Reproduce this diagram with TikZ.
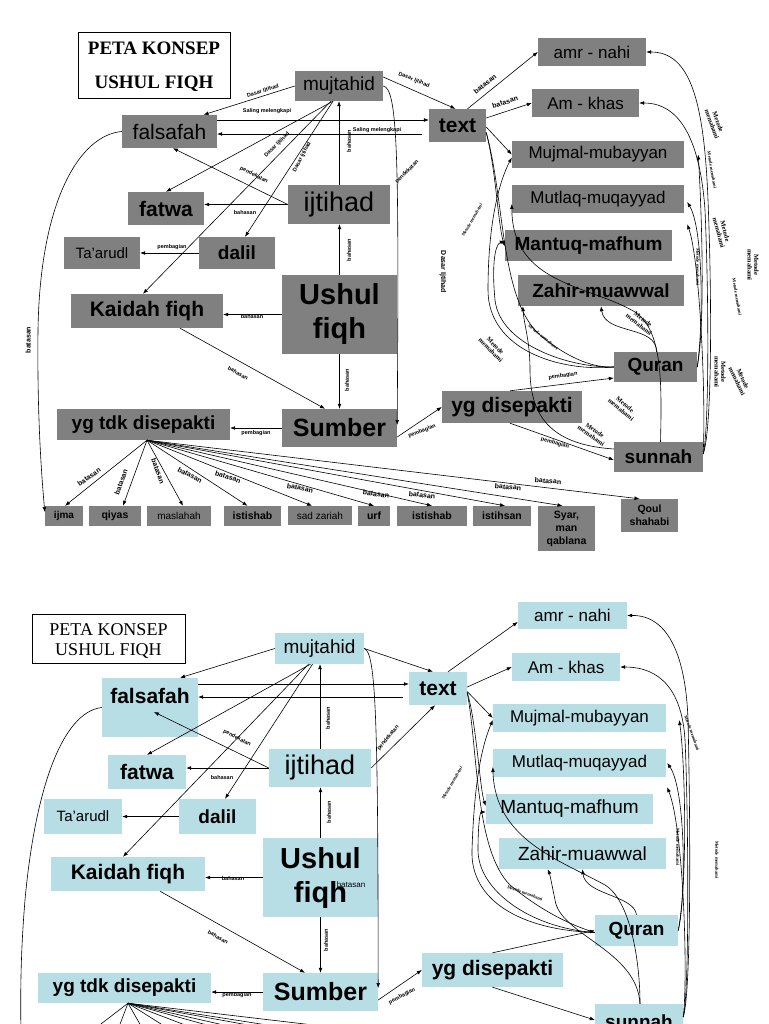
\documentclass[tikz,border=0pt]{standalone}
\usepackage{fontspec}
\setmainfont{Liberation Sans}
\newfontfamily\serifTT{Liberation Serif}
\usetikzlibrary{arrows.meta,calc}
\definecolor{gfill}{RGB}{128,128,128}
\definecolor{bfill}{RGB}{183,221,229}
\newcommand\fR[2]{\fontsize{#1}{#2}\selectfont}
\newcommand\fB[2]{\bfseries\fontsize{#1}{#2}\selectfont}
\newcommand\bx[8]{\node[#2, minimum width={#5-#3}, minimum height={#6-#4}, font=#7] (#1) at ({(#3+#5)/2},{(#4+#6)/2}) {#8};}
\newcommand\lb[5]{\node[#1,rotate=#4] (#2) at (#3) {#5};}
\tikzset{
 nb/.style={inner sep=0pt, align=center, text=black},
 ga/.style={nb, fill=gfill},
 bb/.style={nb, fill=bfill},
 arr/.style={line width=0.6pt, -{Latex[length=5pt,width=3.8pt]}},
 ln/.style={line width=0.6pt},
 lab/.style={font=\bfseries\fontsize{5.5}{6}\selectfont, inner sep=0pt},
 blab/.style={font=\bfseries\fontsize{7}{8}\selectfont, inner sep=0pt},
 llab/.style={font=\fontsize{8}{9}\selectfont, inner sep=0pt},
 mlab/.style={font=\serifTT\bfseries\fontsize{6.5}{6.5}\selectfont, align=center, inner sep=0pt},
 slab/.style={font=\serifTT\bfseries\fontsize{4.5}{5}\selectfont, inner sep=0pt},
 ttl/.style={draw, line width=0.8pt, inner sep=0pt},
}
\begin{document}
\begin{tikzpicture}[x=1pt,y=-1pt]
\useasboundingbox (0,0) rectangle (768,1024);
\fill[white] (0,0) rectangle (768,1024);
\clip (0,0) rectangle (768,1024);

%================ TOP (gray) ================
\node[ttl, minimum width=152, minimum height=66] (titA) at (154,65) {};
\node[anchor=base, inner sep=0pt, font=\serifTT\bfseries\fontsize{19}{23}\selectfont] (titA1) at (154,55) {PETA KONSEP};
\node[anchor=base, inner sep=0pt, font=\serifTT\bfseries\fontsize{19}{23}\selectfont] (titA2) at (154,89) {USHUL FIQH};

\bx{mujA}{ga}{295}{71}{383}{101}{\fR{19}{23}}{mujtahid}
\bx{falA}{ga}{122}{115}{217}{148}{\fR{21}{25}}{falsafah}
\bx{fatA}{ga}{128}{192}{204}{225}{\fB{21}{25}}{fatwa}
\bx{ijtA}{ga}{288}{185}{390}{224}{\fR{27}{32}}{ijtihad}
\bx{taA}{ga}{64}{237}{140}{269}{\fR{15}{18}}{Ta'arudl}
\bx{dalA}{ga}{199}{237}{275}{269}{\fB{19}{23}}{dalil}
\bx{ushA}{ga}{282}{275}{397}{354}{\fB{29}{34}}{Ushul\\fiqh}
\bx{kaiA}{ga}{71}{294}{223}{328}{\fB{21}{25}}{Kaidah fiqh}
\bx{sumA}{ga}{282}{409}{397}{447}{\fB{25}{30}}{Sumber}
\bx{ytdA}{ga}{57}{409}{230}{440}{\fB{19}{23}}{yg tdk disepakti}
\bx{ijmaA}{ga}{45}{506}{83}{526}{\fB{10}{12}}{ijma}
\bx{qiyA}{ga}{89}{506}{141}{526}{\fB{10.5}{12}}{qiyas}
\bx{masA}{ga}{147}{506}{211}{526}{\fR{10}{12}}{maslahah}
\bx{istA}{ga}{224}{506}{281}{526}{\fB{10.5}{12}}{istishab}
\bx{sadA}{ga}{288}{506}{352}{525}{\fR{10}{12}}{sad zariah}
\bx{urfA}{ga}{358}{506}{390}{526}{\fB{10.5}{12}}{urf}
\bx{istbA}{ga}{397}{506}{467}{526}{\fB{10.5}{12}}{istishab}
\bx{ihsA}{ga}{473}{506}{531}{526}{\fB{10.5}{12}}{istihsan}
\bx{syaA}{ga}{538}{506}{595}{551}{\fB{10.5}{13}}{Syar,\\man\\qablana}
\bx{qouA}{ga}{621}{499}{678}{532}{\fB{10.5}{13}}{Qoul\\shahabi}
\bx{ydsA}{ga}{442}{391}{582}{423}{\fB{21}{25}}{yg disepakti}
\bx{qurA}{ga}{614}{352}{697}{382}{\fB{19}{23}}{Quran}
\bx{sunA}{ga}{614}{442}{703}{472}{\fB{19}{23}}{sunnah}
\bx{amrA}{ga}{538}{38}{646}{66}{\fR{17}{20}}{amr - nahi}
\bx{amkA}{ga}{532}{89}{639}{117}{\fR{17}{20}}{Am - khas}
\bx{texA}{ga}{429}{109}{486}{142}{\fB{21}{25}}{text}
\bx{mujmA}{ga}{512}{141}{684}{168}{\fR{17}{20}}{Mujmal-mubayyan}
\bx{mutA}{ga}{512}{185}{684}{213}{\fR{17}{20}}{Mutlaq-muqayyad}
\bx{manA}{ga}{505}{230}{672}{261}{\fB{19}{23}}{Mantuq-mafhum}
\bx{zahA}{ga}{518}{275}{684}{306}{\fB{19}{23}}{Zahir-muawwal}

% connectors (top)
\draw[arr] (mujA.west) -- ([xshift=34pt]falA.north);
\draw[arr] ([yshift=11.5pt]falA.east) -- ([yshift=11.5pt]falA.east -| texA.west);
\draw[arr] ([xshift=-7pt,yshift=-8.5pt]texA.west) -- ([yshift=-8.5pt]texA.west -| falA.east);
\draw[arr] ([yshift=9pt]mujA.east) -- ([xshift=-2pt]texA.north);
\draw[arr] ([xshift=-6pt]mujA.south) -- (fatA.north);
\draw[arr] ([xshift=-6pt]mujA.south) -- ([xshift=8pt]dalA.north);
\draw[arr] ([xshift=-8pt]mujA.south) -- ([xshift=-4pt]kaiA.north);
\draw[arr] (ijtA.west) -- ([xshift=3.5pt]falA.south);
\draw[arr] (ijtA.west) -- (ijtA.west -| fatA.east);
\draw[arr] (dalA.west) -- (taA.east);
\draw[arr] (ijtA.north) -- (ijtA.north |- mujA.south);
\draw[arr] (ushA.north) -- (ushA.north |- ijtA.south);
\draw[arr] (ushA.west) -- (ushA.west -| kaiA.east);
\draw[arr] (ushA.south) -- (ushA.south |- sumA.north);
\draw[arr] ([xshift=33pt]kaiA.south) -- ([xshift=-14.5pt]sumA.north);
\draw[arr] (sumA.west) -- (sumA.west -| ytdA.east);
\draw[arr] (mujA.east) .. controls (398,88) and (399,160) .. ([yshift=3pt]sumA.east);
\draw[arr] (falA.west) .. controls (80,135) and (40,200) .. (38,330) .. controls (37,420) and (42,480) .. ([yshift=4pt]ijmaA.west);
\draw[arr] ([yshift=-9pt]sumA.east) -- (ydsA.west);
\draw[arr] ([xshift=-2pt]ydsA.north) -- ([yshift=-11pt]qurA.west);
\draw[arr] ([xshift=-2pt]ydsA.south) -- ([yshift=-3pt]sunA.west);
\coordinate (fanA) at ([xshift=3.5pt]ytdA.south);
\foreach \n/\s in {ijmaA/1,qiyA/8,masA/4,istA/-5,sadA/-8,urfA/0,istbA/0,ihsA/3,syaA/-4,qouA/-10}
  {\draw[arr] (fanA) -- ([xshift=\s pt]\n.north);}
\draw[arr] ([xshift=10pt]texA.north) -- (amrA.west);
\draw[arr] ([yshift=7.5pt]texA.east) -- (amkA.west);
\draw[arr] ([yshift=-1.5pt]texA.east) -- (mujmA.west);
\draw[arr] ([yshift=-7pt]texA.east) .. controls (496,170) and (498,225) .. ([yshift=-1pt]manA.west);
\draw[ln] ([yshift=-7pt]texA.east) .. controls (505,200) and (500,300) .. (540,335) .. controls (570,360) and (595,368) .. (qurA.west);
\draw[arr] (qurA.west) .. controls (560,372) and (488,350) .. (488,290) .. controls (488,220) and (500,180) .. ([yshift=-3pt]mujmA.west);
\draw[arr] (qurA.west) .. controls (570,368) and (500,345) .. (495,300) .. controls (492,270) and (494,245) .. ([yshift=5pt]manA.west);
\draw[arr] ([xshift=2pt]sunA.north) .. controls (662,380) and (662,330) .. (635,312) .. controls (590,285) and (512,285) .. ([yshift=-5pt]mutA.west);
\draw[arr] ([xshift=1pt]qurA.north) .. controls (657,325) and (605,335) .. (zahA.south);
\draw[arr] ([yshift=8pt]sunA.west) .. controls (555,445) and (530,420) .. (530,370) .. controls (530,340) and (524,325) .. ([xshift=5pt]zahA.south west);
\draw[arr] ([yshift=3pt]sunA.east) .. controls (712,430) and (712,300) .. (708,200) .. controls (704,100) and (690,52) .. (amrA.east);
\draw[arr] ([yshift=3pt]sunA.east) .. controls (709,430) and (709,300) .. (705,210) .. controls (700,140) and (680,103) .. (amkA.east);
\draw[arr] (qurA.east) .. controls (703,330) and (704,230) .. ([xshift=3pt,yshift=-3pt]mutA.east);
\draw[arr] ([yshift=5pt]sunA.east) .. controls (706,400) and (700,260) .. ([xshift=3pt,yshift=-11pt]mutA.south east);
\draw[arr] (qurA.east) .. controls (706,320) and (701,200) .. ([xshift=14pt]mujmA.east);

% labels (top)
\lb{lab}{lA1}{263,91}{17}{Dasar Ijtihad}
\lb{lab}{lA2}{267,111}{0}{Saling melengkapi}
\lb{lab}{lA3}{377,130}{0}{Saling melengkapi}
\lb{lab}{lA4}{414,80}{-22}{Dasar Ijtihad}
\lb{lab}{lA5}{277,145}{45}{Dasar Ijtihad}
\lb{lab}{lA6}{302,157}{62}{Dasar Ijtihad}
\lb{lab}{lA7}{254,175}{-27}{pendekatan}
\lb{lab}{lA8}{245,213}{0}{bahasan}
\lb{lab}{lA9}{172,247}{0}{pembagian}
\lb{lab}{lA10}{349,141}{90}{bahasan}
\lb{lab}{lA11}{349,250}{90}{bahasan}
\lb{lab}{lA12}{252,317}{0}{bahasan}
\lb{lab}{lA13}{347,380}{90}{bahasan}
\lb{lab}{lA14}{238,373}{-30}{bahasan}
\lb{lab}{lA15}{256,433}{0}{pembagian}
\lb{lab}{lA16}{407,172}{45}{pendekatan}
\lb{blab}{lA17}{28,340}{90}{batasan}
\lb{lab}{lA18}{422,431}{22}{pembagian}
\lb{lab}{lA19}{563,376}{8}{pembagian}
\lb{lab}{lA20}{555,443}{-15}{pembagian}
\lb{blab}{lA21}{89,477}{35}{batasan}
\lb{blab}{lA22}{121,482}{70}{batasan}
\lb{blab}{lA23}{158,471}{-70}{batasan}
\lb{blab}{lA24}{190,475}{-28}{batasan}
\lb{blab}{lA25}{228,477}{-18}{batasan}
\lb{blab}{lA26}{300,488}{-10}{batasan}
\lb{blab}{lA27}{376,494}{-7}{batasan}
\lb{blab}{lA28}{422,495}{-6}{batasan}
\lb{blab}{lA29}{508,487}{-5}{batasan}
\lb{blab}{lA30}{548,481}{-4}{batasan}
\lb{blab}{lA31}{485,84}{38}{batasan}
\lb{blab}{lA32}{505,102}{17}{batasan}
\lb{blab}{lA33}{443,272}{-90}{Dasar Ijtihad}
\lb{mlab}{mA1}{715,123}{-70}{Metode\\memahami}
\lb{mlab}{mA2}{722,232}{-75}{Metode\\memahami}
\lb{mlab}{mA3}{753,265}{-90}{Metode\\memahami}
\lb{mlab}{mA4}{493,348}{-45}{Metode\\memahami}
\lb{mlab}{mA5}{641,322}{-38}{Metode\\memahami}
\lb{mlab}{mA6}{623,407}{-40}{Metode\\memahami}
\lb{mlab}{mA7}{593,433}{-35}{Metode\\memahami}
\lb{mlab}{mA8}{720,372}{-90}{Metode\\memahami}
\lb{mlab}{mA9}{740,380}{-65}{Metode\\memahami}
\lb{slab}{sA1}{712,170}{-80}{Metode memahami}
\lb{slab}{sA2}{698,267}{-90}{Metode memahami}
\lb{slab}{sA3}{737,297}{-80}{Metode memahami}
\lb{slab}{sA4}{472,220}{60}{Metode memahami}
\lb{slab}{sA5}{543,337}{-40}{Metode memahami}

%================ BOTTOM (blue) ================
\node[ttl, minimum width=153, minimum height=49] (titB) at (108.5,638.5) {};
\node[anchor=base, inner sep=0pt, font=\serifTT\fontsize{18}{21}\selectfont] (titB1) at (108.5,635) {PETA KONSEP};
\node[anchor=base, inner sep=0pt, font=\serifTT\fontsize{18}{21}\selectfont] (titB2) at (108.5,655) {USHUL FIQH};

\bx{mujB}{bb}{275}{633}{364}{664}{\fR{19}{23}}{mujtahid}
\bx{falB}{bb}{102}{678}{198}{737}{}{}
\node[anchor=base, inner sep=0pt, font=\fB{21}{25}] (falBt) at (150,703) {falsafah};
\bx{fatB}{bb}{108}{755}{186}{789}{\fB{21}{25}}{fatwa}
\bx{ijtB}{bb}{269}{749}{371}{787}{\fR{27}{32}}{ijtihad}
\bx{taB}{bb}{44}{799}{122}{834}{\fR{15}{18}\color{black!75}}{Ta'arudl}
\bx{dalB}{bb}{179}{799}{256}{834}{\fB{19}{23}}{dalil}
\bx{kaiB}{bb}{51}{857}{205}{891}{\fB{21}{25}}{Kaidah fiqh}
\bx{ushB}{bb}{263}{838}{378}{917}{\fB{29}{34}}{Ushul\\fiqh}
\bx{sumB}{bb}{263}{973}{378}{1011}{\fB{25}{30}}{Sumber}
\bx{ytdB}{bb}{38}{973}{211}{1003}{\fB{19}{23}}{yg tdk disepakti}
\bx{amrB}{bb}{518}{602}{627}{629}{\fR{17}{20}}{amr - nahi}
\bx{amkB}{bb}{512}{653}{620}{681}{\fR{17}{20}}{Am - khas}
\bx{texB}{bb}{409}{672}{467}{705}{\fB{21}{25}}{text}
\bx{mujmB}{bb}{493}{704}{666}{732}{\fR{17}{20}}{Mujmal-mubayyan}
\bx{mutB}{bb}{493}{749}{666}{777}{\fR{17}{20}}{Mutlaq-muqayyad}
\bx{manB}{bb}{486}{794}{653}{824}{\fR{19}{23}}{Mantuq-mafhum}
\bx{zahB}{bb}{499}{838}{666}{869}{\fR{19}{23}}{Zahir-muawwal}
\bx{qurB}{bb}{595}{915}{678}{946}{\fB{19}{23}}{Quran}
\bx{ydsB}{bb}{422}{953}{563}{987}{\fB{21}{25}}{yg disepakti}
\bx{sunB}{bb}{595}{1004}{683}{1040}{\fB{19}{23}}{sunnah}

% connectors (bottom)
\draw[arr] (mujB.west) -- ([xshift=30pt]falB.north);
\draw[arr] ([yshift=23.5pt]falB.east) -- ([yshift=23.5pt]falB.east -| texB.west);
\draw[arr] ([xshift=-6pt,yshift=-8.5pt]texB.west) -- ([yshift=-8.5pt]texB.west -| falB.east);
\draw[arr] (mujB.east) -- ([xshift=-5pt]texB.north);
\draw[arr] ([xshift=-9pt]mujB.south) -- (fatB.north);
\draw[arr] ([xshift=-7pt]mujB.south) -- ([xshift=7.5pt]dalB.north);
\draw[arr] ([xshift=-11pt]mujB.south) -- ([xshift=-5pt]kaiB.north);
\draw[arr] (ijtB.west) -- ([xshift=4pt,yshift=-4.5pt]falB.center);
\draw[arr] (ijtB.west) -- (ijtB.west -| fatB.east);
\draw[arr] (dalB.west) -- (taB.east);
\draw[arr] (ijtB.north) -- (ijtB.north |- mujB.south);
\draw[arr] (ushB.north) -- (ushB.north |- ijtB.south);
\draw[arr] (ushB.west) -- (ushB.west -| kaiB.east);
\draw[arr] (ushB.south) -- (ushB.south |- sumB.north);
\draw[arr] ([xshift=32pt]kaiB.south) -- ([xshift=-15.5pt]sumB.north);
\draw[arr] (sumB.west) -- (sumB.west -| ytdB.east);
\draw[arr] (mujB.east) .. controls (376,652) and (378,720) .. ([yshift=4pt]sumB.east);
\draw[arr] (ijtB.east) -- ([xshift=-3pt]texB.south);
\coordinate (ijmaB) at (22,1070);
\draw[arr] (falB.west) .. controls (62,712) and (35,790) .. (25,900) .. controls (20,960) and (20,1010) .. (ijmaB);
\draw[arr] ([yshift=-8pt]sumB.east) -- (ydsB.west);
\draw[arr] (ydsB.north) -- (qurB.west);
\draw[arr] (ydsB.south) -- ([yshift=2pt]sunB.west);
\coordinate (fanB) at ([xshift=3.5pt]ytdB.south);
\foreach \i/\dx/\dy in {1/-82/63,2/-24/63,3/36/63,4/100/63,5/165/63,6/228/63,7/285/65,8/358/65,9/415/65,10/493/58}
  {\coordinate (fB\i) at ($(fanB)+(\dx,\dy)$); \draw[arr] (fanB) -- (fB\i);}
\draw[arr] ([xshift=10pt]texB.north) -- ([yshift=-6.5pt]amrB.west);
\draw[arr] ([yshift=1.5pt]texB.east) -- (amkB.west);
\draw[arr] ([yshift=-3pt]texB.east) -- (mujmB.west);
\draw[arr] ([yshift=-4pt]texB.east) .. controls (476,720) and (480,790) .. ([yshift=3pt]manB.west);
\draw[ln] ([yshift=-4pt]texB.east) .. controls (478,750) and (475,850) .. (510,885) .. controls (540,910) and (570,925) .. ([yshift=-2pt]qurB.west);
\draw[arr] ([yshift=-2pt]qurB.west) .. controls (520,930) and (470,900) .. (472,850) .. controls (474,790) and (480,750) .. ([yshift=-2pt]mujmB.west);
\draw[arr] ([yshift=-2pt]qurB.west) .. controls (530,928) and (478,890) .. (478,850) .. controls (478,825) and (480,812) .. ([yshift=-3pt]manB.west);
\draw[arr] ([xshift=1pt]sunB.north) .. controls (640,960) and (630,900) .. (605,885) .. controls (560,860) and (495,840) .. ([yshift=-4pt]mutB.west);
\draw[arr] (qurB.north) .. controls (634,895) and (585,895) .. (zahB.south);
\draw[arr] ([xshift=1pt]sunB.north) .. controls (637,950) and (560,935) .. (555,900) .. controls (552,885) and (550,875) .. ([xshift=49pt]zahB.south west);
\draw[arr] ([yshift=5pt]sunB.east) .. controls (692,990) and (690,800) .. (688,720) .. controls (686,660) and (670,615) .. (amrB.east);
\draw[arr] ([yshift=5pt]sunB.east) .. controls (690,990) and (688,800) .. (685,740) .. controls (682,690) and (660,667) .. (amkB.east);
\draw[arr] (qurB.east) .. controls (686,900) and (686,790) .. ([xshift=1pt]mutB.east);
\draw[arr] ([yshift=5pt]sunB.east) .. controls (688,980) and (684,830) .. ([xshift=1pt,yshift=-10pt]mutB.south east);
\draw[arr] (qurB.east) .. controls (688,880) and (685,760) .. ([xshift=13pt,yshift=-2pt]mujmB.east);

% labels (bottom)
\lb{lab}{lB1}{237,738}{-28}{pendekatan}
\lb{lab}{lB2}{222,778}{0}{bahasan}
\lb{lab}{lB3}{328,718}{90}{bahasan}
\lb{lab}{lB4}{329,812}{90}{bahasan}
\lb{lab}{lB5}{233,879}{0}{bahasan}
\lb{llab}{lB6}{351,885}{0}{batasan}
\lb{lab}{lB7}{326,940}{90}{bahasan}
\lb{lab}{lB8}{218,937}{-30}{bahasan}
\lb{lab}{lB9}{237,995}{0}{pembagian}
\lb{lab}{lB10}{388,738}{50}{pendekatan}
\lb{lab}{lB11}{402,996}{28}{pembagian}
\lb{slab}{sB1}{452,783}{60}{Metode memahami}
\lb{slab}{sB2}{525,893}{-20}{Metode memahami}
\lb{slab}{sB3}{692,733}{-70}{Metode memahami}
\lb{slab}{sB4}{678,847}{-90}{Metode memahami}
\lb{slab}{sB5}{717,860}{-90}{Metode memahami}
\end{tikzpicture}
\end{document}
